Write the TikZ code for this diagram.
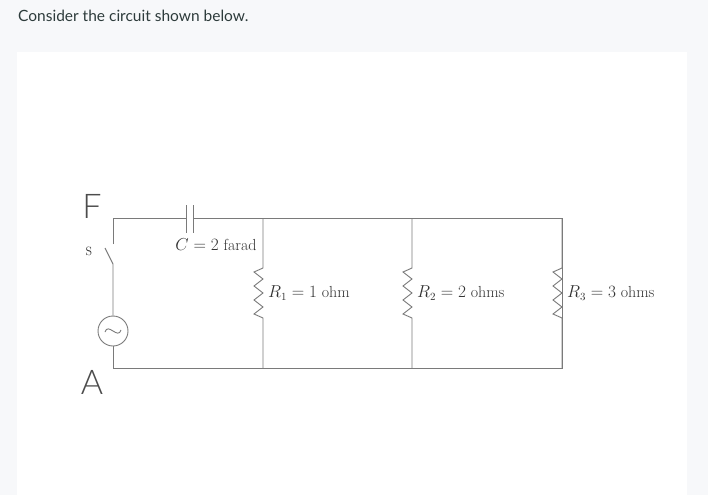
\documentclass[tikz,border=0pt]{standalone}
\usepackage{fontspec}
\newfontfamily\lato{Lato}
\newfontfamily\latol{Lato Light}
\definecolor{bg}{HTML}{F7F8FA}
\definecolor{wire}{HTML}{7A7A7A}
\definecolor{hdr}{HTML}{2D3B3B}
\begin{document}
\begin{tikzpicture}[x=1pt,y=-1pt,
  w/.style={draw=wire,line width=0.9pt},
  lbl/.style={inner sep=0pt,anchor=west,font=\fontsize{16}{16}\selectfont,text=black!80}]
\fill[bg] (0,0) rectangle (708,495);
\useasboundingbox (0,0) rectangle (708,495);
\fill[white] (17,52) rectangle (687,495);
\node[anchor=west,inner sep=0pt,text=hdr,font=\lato\fontsize{15.5}{15.5}\selectfont] (hd) at (18,16) {Consider the circuit shown below.};
% coordinates
\coordinate (tl) at (113,218);
\coordinate (bl) at (113,368);
\coordinate (br) at (562,368);
\coordinate (tr) at (562,218);
\coordinate (c1) at (186,218);
\coordinate (c2) at (193,218);
\coordinate (sw1) at (113,244);
\coordinate (sw2) at (113,264);
\coordinate (swb) at (105,248);
\node[circle,draw=wire,line width=0.9pt,minimum size=30pt,inner sep=0pt] (src) at (113,331) {};
\draw[wire,line width=0.9pt] (src.center)+(-8,1) .. controls +(3,-10) and +(-3,10) .. +(8,-1);
% left branch
\draw[w] (sw1) -- (tl) -- (c1);
\draw[w] (c1)+(0,-13) -- +(0,15);
\draw[w] (c2)+(0,-13) -- +(0,15);
\draw[w] (c2) -- (tr) -- (br) -- (bl) -- (src.south);
\draw[w] (src.north) -- (sw2) -- (swb);
% resistors
\foreach \x/\n/\t in {263/r1/{$R_1=1$ ohm},412/r2/{$R_2=2$ ohms},562/r3/{$R_3=3$ ohms}}{
  \draw[w] (\x,218) -- (\x,268) -- ++(-9,4) -- ++(9,7) -- ++(-9,7) -- ++(9,7) -- ++(-9,7) -- ++(9,7) -- ++(-9,7) -- ++(9,4) -- (\x,368);
  \node[lbl] (\n) at (\x+5,293) {\t};
}
\node[lbl,anchor=center] (cl) at (216,245) {$C=2$ farad};
\node[font=\fontsize{12}{12}\selectfont,text=black!80] (s) at (89,251) {S};
\node[font=\latol\fontsize{34}{34}\selectfont,text=black!70] (f) at (92,206) {F};
\node[font=\latol\fontsize{34}{34}\selectfont,text=black!70] (a) at (92,382) {A};
\end{tikzpicture}
\end{document}
